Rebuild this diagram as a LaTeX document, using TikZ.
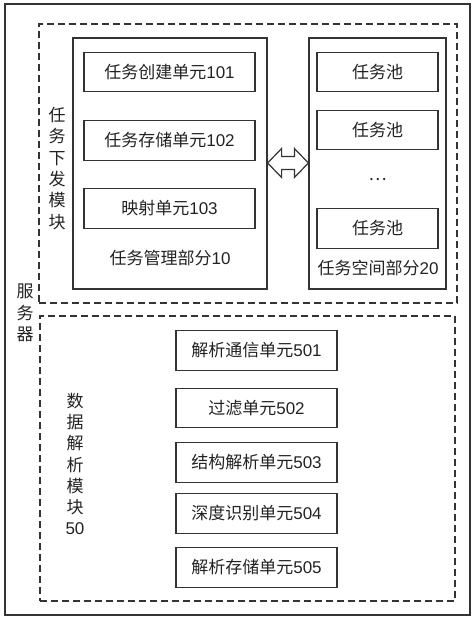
\documentclass[tikz,border=0pt]{standalone}
\usepackage{fontspec}
\setmainfont{Liberation Sans}
\newfontfamily\cjk{Noto Sans CJK SC}
\usetikzlibrary{calc}
\definecolor{ln}{HTML}{333333}
\definecolor{tx}{HTML}{222222}
\newcommand\zh[1]{{\cjk #1}}
\begin{document}
\begin{tikzpicture}[x=1pt,y=-1pt,
  every node/.style={text=tx,font=\fontsize{17}{21.3}\selectfont,inner sep=0pt},
  frame/.style={draw=ln,line width=1.3pt,rectangle},
  dframe/.style={draw=ln,line width=1.3pt,rectangle,dash pattern=on 7pt off 4pt},
  part/.style={draw=ln,line width=1.2pt,rectangle},
  unitbox/.style={draw=ln,line width=1.2pt,rectangle,minimum height=39.5pt},
  vlabel/.style={align=center}]
\useasboundingbox (0,0) rectangle (474,620);
\node[frame,minimum width=465pt,minimum height=611pt] (server) at (237.5,309.5) {};
\node[vlabel] (serverlbl) at (25,313) {\zh{服}\\\zh{务}\\\zh{器}};
% top module
\node[dframe,minimum width=418pt,minimum height=279pt] (dispatch) at (248,163.5) {};
\node[vlabel] (dispatchlbl) at (57,168.5) {\zh{任}\\\zh{务}\\\zh{下}\\\zh{发}\\\zh{模}\\\zh{块}};
\node[part,minimum width=194pt,minimum height=251pt] (mgmt) at (170,163.5) {};
\node[unitbox,minimum width=171pt] (u101) at (169.5,72) {\zh{任务创建单元}101};
\node[unitbox,minimum width=171pt] (u102) at (169.5,140.5) {\zh{任务存储单元}102};
\node[unitbox,minimum width=171pt] (u103) at (169.5,208.5) {\zh{映射单元}103};
\node (mgmtlbl) at (170,258) {\zh{任务管理部分}10};
\node[part,minimum width=137pt,minimum height=251pt] (space) at (377.5,163.5) {};
\node[unitbox,minimum width=121pt] (p1) at (377.5,72) {\zh{任务池}};
\node[unitbox,minimum width=121pt] (p2) at (377.5,130) {\zh{任务池}};
\node (dots) at (377.5,180) {\zh{…}};
\node[unitbox,minimum width=121pt] (p3) at (377.5,228.5) {\zh{任务池}};
\node (spacelbl) at (378,268) {\zh{任务空间部分}20};
% double arrow
\coordinate (al) at (mgmt.east|-0,163);
\coordinate (ar) at (space.west|-0,163);
\draw[ln,line width=1.2pt,line join=miter]
  (al) -- ($(al)+(14,-14.5)$) -- ($(al)+(14,-6.5)$) -- ($(ar)+(-14,-6.5)$) -- ($(ar)+(-14,-14.5)$)
  -- (ar) -- ($(ar)+(-14,14.5)$) -- ($(ar)+(-14,6.5)$) -- ($(al)+(14,6.5)$) -- ($(al)+(14,14.5)$) -- cycle;
% bottom module
\node[dframe,minimum width=415pt,minimum height=285pt] (parse) at (247.5,458.5) {};
\node[vlabel] (parselbl) at (75,464) {\zh{数}\\\zh{据}\\\zh{解}\\\zh{析}\\\zh{模}\\\zh{块}\\50};
\node[unitbox,minimum width=161pt] (u501) at (256.5,350.5) {\zh{解析通信单元}501};
\node[unitbox,minimum width=161pt] (u502) at (256.5,408) {\zh{过滤单元}502};
\node[unitbox,minimum width=161pt] (u503) at (256.5,462.5) {\zh{结构解析单元}503};
\node[unitbox,minimum width=161pt] (u504) at (256.5,513.5) {\zh{深度识别单元}504};
\node[unitbox,minimum width=161pt] (u505) at (256.5,567.5) {\zh{解析存储单元}505};
\end{tikzpicture}
\end{document}
